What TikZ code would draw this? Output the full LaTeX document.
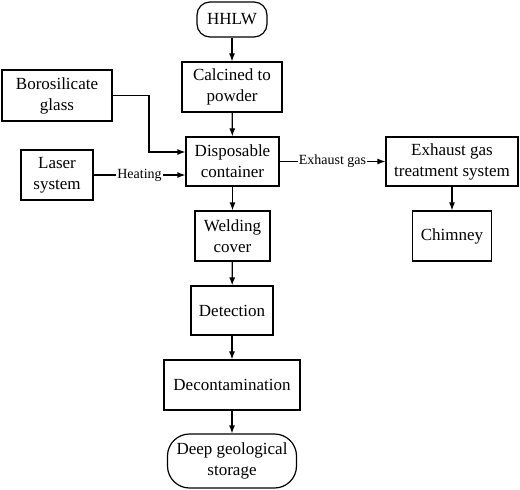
\documentclass[tikz,border=0pt]{standalone}
\usepackage{fontspec}
\setmainfont{Liberation Serif}
\usepackage{tikz}
\usetikzlibrary{arrows.meta}

\begin{document}
\begin{tikzpicture}[
    x=1pt, y=-1pt,
    line width=1.2pt,
    >={Latex[length=8pt,width=6pt]},
    box/.style={rectangle, draw, inner sep=0pt, align=center, font=\fontsize{17}{21}\selectfont},
    endbox/.style={box, rounded corners=#1},
    lbl/.style={fill=white, inner sep=1pt, font=\fontsize{14}{16}\selectfont}
  ]
  \useasboundingbox (0,0) rectangle (520,490);

  % Nodes
  \node[endbox=13pt, minimum width=70pt, minimum height=35pt] (hhlw) at (232,19.5) {HHLW};
  \node[box, minimum width=100pt, minimum height=50pt] (calcined) at (232,87) {Calcined to\\powder};
  \node[box, minimum width=110pt, minimum height=51pt] (glass) at (57,95.5) {Borosilicate\\glass};
  \node[box, minimum width=93pt, minimum height=49pt] (container) at (232.5,161.5) {Disposable\\container};
  \node[box, minimum width=72pt, minimum height=50pt] (laser) at (57,175) {Laser\\system};
  \node[box, minimum width=132pt, minimum height=49pt] (exhaust) at (452,161.5) {Exhaust gas\\treatment system};
  \node[box, minimum width=79pt, minimum height=50pt] (chimney) at (452,236) {Chimney};
  \node[box, minimum width=75pt, minimum height=50pt] (welding) at (232.5,236) {Welding\\cover};
  \node[box, minimum width=82pt, minimum height=49pt] (detection) at (232,310.5) {Detection};
  \node[box, minimum width=136pt, minimum height=50pt] (decon) at (232,385) {Decontamination};
  \node[endbox=22pt, minimum width=129pt, minimum height=54pt] (storage) at (232,461) {Deep geological\\storage};

  % Edges
  \draw[->] (hhlw) -- (calcined);
  \draw[->] (calcined) -- (container);
  \draw[->] (glass.east) -| (149,152) -- (container.west |- 0,152);
  \draw[->] (laser.east |- 0,175) -- node[lbl] {Heating} (container.west |- 0,175);
  \draw[->] (container) -- node[lbl] {Exhaust gas} (exhaust);
  \draw[->] (exhaust) -- (chimney);
  \draw[->] (container) -- (welding);
  \draw[->] (welding) -- (detection);
  \draw[->] (detection) -- (decon);
  \draw[->] (decon) -- (storage);

\end{tikzpicture}
\end{document}
